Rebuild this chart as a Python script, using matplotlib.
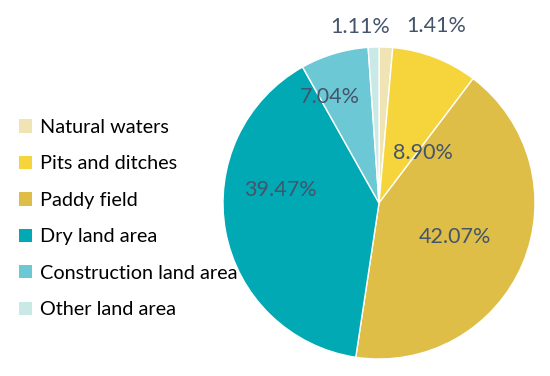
import matplotlib
matplotlib.use("Agg")
import matplotlib.pyplot as plt
import numpy as np
from matplotlib.patches import Patch

categories = ["Natural waters", "Pits and ditches", "Paddy field",
              "Dry land area", "Construction land area", "Other land area"]
values = [1.41, 8.90, 42.07, 39.47, 7.04, 1.11]
colors = ["#F0E4B4", "#F5D43C", "#DEBE46", "#00A9B4", "#6CC8D4", "#C9E9E6"]
label_pos = [(0.365, 1.135), (0.28, 0.32), (0.487, -0.218),
             (-0.635, 0.083), (-0.314, 0.68), (-0.12, 1.13)]

plt.rcParams['font.family'] = ['Lato', 'DejaVu Sans']

fig = plt.figure(figsize=(5.5, 3.76), dpi=100)
r_px = 156
cx, cy = 379, 203
ax = fig.add_axes([(cx - r_px) / 550, 1 - (cy + r_px) / 376, 2 * r_px / 550, 2 * r_px / 376])
wedges, _ = ax.pie(values, colors=colors, startangle=90, counterclock=False,
                   wedgeprops=dict(edgecolor="white", linewidth=1.0))
ax.set_xlim(-1, 1)
ax.set_ylim(-1, 1)
ax.set_aspect('auto')
for v, (x, y) in zip(values, label_pos):
    ax.text(x, y, f"{v:.2f}%", ha="center", va="center", fontsize=15.5,
            color="#44546A", clip_on=False)

handles = [Patch(facecolor=c, edgecolor="none") for c in colors]
leg = fig.legend(handles, categories, loc="upper left", bbox_to_anchor=(0.02, 0.705),
                 frameon=False, fontsize=14.3, handlelength=0.66, handleheight=0.66,
                 handletextpad=0.42, labelspacing=0.98, borderaxespad=0)

fig.savefig("out.png", dpi=100)
